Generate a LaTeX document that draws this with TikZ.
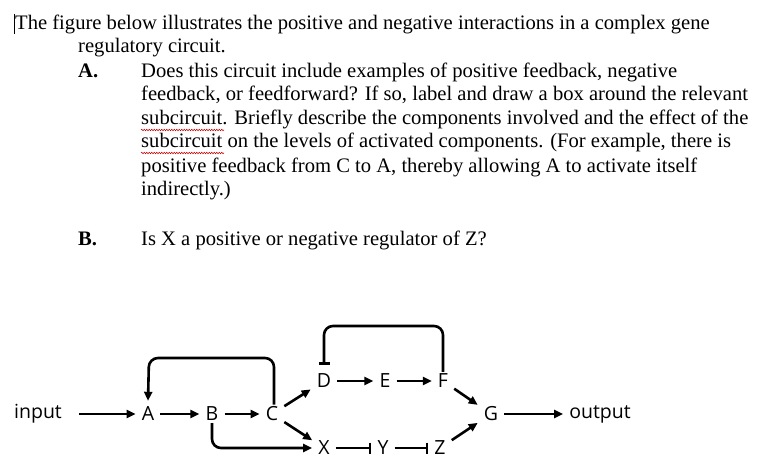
\documentclass[tikz,border=0pt]{standalone}
\usepackage{fontspec}
\setmainfont{Liberation Serif}
\newfontfamily\diag{Open Sans}
\usetikzlibrary{arrows.meta,decorations.pathmorphing}
\begin{document}
\begin{tikzpicture}[x=1pt,y=-1pt,
  txt/.style={anchor=base west,inner sep=0pt,font=\fontsize{20.6}{22}\selectfont},
  gn/.style={inner sep=6pt,font=\diag\fontsize{19.5}{22}\selectfont},
  act/.style={line width=2.6pt,-{Triangle[length=9pt,width=8pt]}},
  inh/.style={line width=2.6pt,-{Bar[width=11pt,line width=2.6pt]}},
  squig/.style={red!80!black,line width=0.5pt,decorate,decoration={snake,amplitude=0.8pt,segment length=2.5pt}}]
\useasboundingbox (0,0) rectangle (779,476);
\fill[white] (0,0) rectangle (779,476);
\draw[line width=0.8pt] (14,14) -- (14,34);
\node[txt] (l1) at (15,30) {The figure below illustrates the positive and negative interactions in a complex gene};
\node[txt] (l2) at (78,53) {regulatory circuit.};
\node[txt] (la) at (78,78) {\bfseries A.};
\node[txt] (a1) at (141,78) {Does this circuit include examples of positive feedback, negative};
\node[txt] (a2) at (141,101) {feedback, or feedforward? If so, label and draw a box around the relevant};
\node[txt] (a3) at (141,125) {subcircuit. Briefly describe the components involved and the effect of the};
\node[txt] (a4) at (141,148) {subcircuit on the levels of activated components. (For example, there is};
\node[txt] (a5) at (141,172) {positive feedback from C to A, thereby allowing A to activate itself};
\node[txt] (a6) at (141,195) {indirectly.)};
\node[txt] (lb) at (78,245) {\bfseries B.};
\node[txt] (b1) at (141,245) {Is X a positive or negative regulator of Z?};
\draw[squig] (141,130) -- (224,130);
\draw[squig] (141,153) -- (224,153);
\node[gn] (in) at (38,414) {input};
\node[gn] (A) at (148,414) {A};
\node[gn] (B) at (212,414) {B};
\node[gn] (C) at (272,414) {C};
\node[gn] (D) at (324,381) {D};
\node[gn] (E) at (385,381) {E};
\node[gn] (F) at (443,381) {F};
\node[gn] (G) at (491,414) {G};
\node[gn] (out) at (600,414) {output};
\node[gn] (X) at (324,448) {X};
\node[gn] (Y) at (383,448) {Y};
\node[gn] (Z) at (440,448) {Z};
\draw[act] (79,414) -- (A);
\draw[act] (A) -- (B);
\draw[act] (B) -- (C);
\draw[act] (C) -- (D);
\draw[act] (C) -- (X);
\draw[act] (D) -- (E);
\draw[act] (E) -- (F);
\draw[act] (F) -- (G);
\draw[act] (Z) -- (G);
\draw[act] (G) -- (out);
\draw[inh] (X) -- (Y);
\draw[inh] (Y) -- (Z);
\draw[act,rounded corners=9pt] (C.north) ++(2,4) |- (149,358) -- (A.north);
\draw[inh,rounded corners=9pt] (F.north) ++(0,4) |- (324,326) -- (324,365);
\draw[act,rounded corners=9pt] (B.south) ++(0,-4) |- (X.west);
\end{tikzpicture}
\end{document}
